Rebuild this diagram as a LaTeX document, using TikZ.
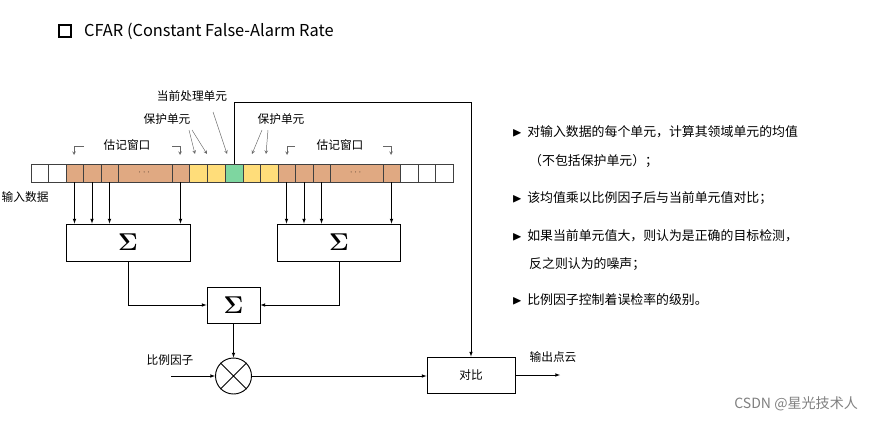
\documentclass[tikz,border=0pt]{standalone}
\usepackage{amsmath,amssymb}
\usepackage{fontspec}
\setmainfont{Noto Sans CJK SC}
\usetikzlibrary{positioning,calc}
\definecolor{winorange}{RGB}{224,169,130}
\definecolor{guardyellow}{RGB}{255,221,122}
\definecolor{cutgreen}{RGB}{126,214,160}
\tikzset{
  cell/.style={draw=black!75, minimum height=18*0.03cm, inner sep=0pt, font=\fontsize{7}{8}\selectfont},
  sumbox/.style={draw, thick, inner sep=0pt, font=\fontsize{20}{22}\selectfont},
  lbl/.style={font=\fontsize{10}{12}\selectfont, inner sep=1pt},
  note/.style={->, >=stealth, gray!80!black, thin}
}
\begin{document}
\begin{tikzpicture}[x=0.03cm, y=-0.03cm, >=latex]
    \useasboundingbox (0,0) rectangle (878,423);

    % Title
    \draw[very thick] (59,25) rectangle (71,37);
    \node[anchor=west, font=\fontsize{14}{16}\selectfont] (title) at (80,31) {CFAR (Constant False-Alarm Rate};

    % Data cells
    \foreach \n/\a/\b/\col/\txt in {1/31/48/white/, 2/48/66/white/, 3/66/83/winorange/, 4/83/101/winorange/,
        5/101/118/winorange/, 6/118/172/winorange/$\cdots$, 7/172/189/winorange/, 8/189/207/guardyellow/,
        9/207/225/guardyellow/, 10/225/243/cutgreen/, 11/243/260/guardyellow/, 12/260/278/guardyellow/,
        13/278/295/winorange/, 14/295/313/winorange/, 15/313/330/winorange/, 16/330/383/winorange/$\cdots$,
        17/383/400/winorange/, 18/400/418/white/, 19/418/435/white/, 20/435/453/white/}
        \node[cell, fill=\col, minimum width=(\b-\a)*0.03cm] (c\n) at ({(\a+\b)/2},173) {\txt};

    % Blocks
    \node[sumbox, minimum width=124*0.03cm, minimum height=37*0.03cm] (sumL) at (128,242.5) {$\boldsymbol{\Sigma}$};
    \node[sumbox, minimum width=123*0.03cm, minimum height=37*0.03cm] (sumR) at (339,242.5) {$\boldsymbol{\Sigma}$};
    \node[sumbox, minimum width=53*0.03cm, minimum height=36*0.03cm] (sumM) at (233.5,305) {$\boldsymbol{\Sigma}$};
    \node[draw, thick, circle, minimum size=36*0.03cm, inner sep=0pt] (mult) at (233.5,376) {};
    \draw[thick] (mult.north west) -- (mult.south east) (mult.north east) -- (mult.south west);
    \node[draw, thick, minimum width=88*0.03cm, minimum height=36*0.03cm, lbl] (cmp) at (471,375) {对比};

    % Labels
    \node[lbl, anchor=east] (input) at (50,197) {输入数据};
    \node[lbl] (cut) at (192,96) {当前处理单元};
    \node[lbl] (guardL) at (167,119) {保护单元};
    \node[lbl] (guardR) at (281,119) {保护单元};
    \node[lbl] (winL) at (127,145) {估记窗口};
    \node[lbl] (winR) at (340,145) {估记窗口};
    \node[lbl] (scale) at (170,360) {比例因子};
    \node[lbl] (out) at (553,357) {输出点云};
    \coordinate (scalein) at (171,376);
    \coordinate (outend) at (560,375);

    % Annotation arrows
    \draw[note] (189,130) -- (195,154);
    \draw[note] (192,130) -- (207,154);
    \draw[note] (213,112) -- (227,154);
    \draw[note] (262,130) -- (252,154);
    \draw[note] (268,130) -- (266,154);
    \draw[note] (84,146) -| (74,155);
    \draw[note] (172,146) -| (180,155);
    \draw[note] (295,146) -| (287,155);
    \draw[note] (383,146) -| (391,155);

    % Window cells to adders
    \foreach \i in {3,4,5,7}
        \draw[->] (c\i.south) -- (c\i.south |- sumL.north);
    \foreach \i in {13,14,15,17}
        \draw[->] (c\i.south) -- (c\i.south |- sumR.north);

    % Adders, scaling and comparison
    \draw[->] (sumL.south) |- (sumM.west);
    \draw[->] (sumR.south) |- (sumM.east);
    \draw[->] (sumM.south) -- (mult.north);
    \draw[->] (scalein) -- (mult.west);
    \draw[->] (mult.east) -- (mult.east -| cmp.west);
    \draw[->] (c10.north) |- (cmp.north |- 0,102) -- (cmp.north);
    \draw[->] (cmp.east) -- (outend);

    % Notes
    \begin{scope}[every node/.style={anchor=west, font=\fontsize{11}{13}\selectfont, inner sep=0pt}]
        \node (b1) at (512,132) {$\blacktriangleright$\, 对输入数据的每个单元，计算其领域单元的均值};
        \node (b1a) at (529,161) {（不包括保护单元）；};
        \node (b2) at (512,198) {$\blacktriangleright$\, 该均值乘以比例因子后与当前单元值对比；};
        \node (b3) at (512,236) {$\blacktriangleright$\, 如果当前单元值大，则认为是正确的目标检测，};
        \node (b3a) at (529,264) {反之则认为的噪声；};
        \node (b4) at (512,300) {$\blacktriangleright$\, 比例因子控制着误检率的级别。};
    \end{scope}
    \node[anchor=east, font=\fontsize{12}{14}\selectfont, text=gray] (mark) at (862,404) {CSDN @星光技术人};
\end{tikzpicture}
\end{document}
